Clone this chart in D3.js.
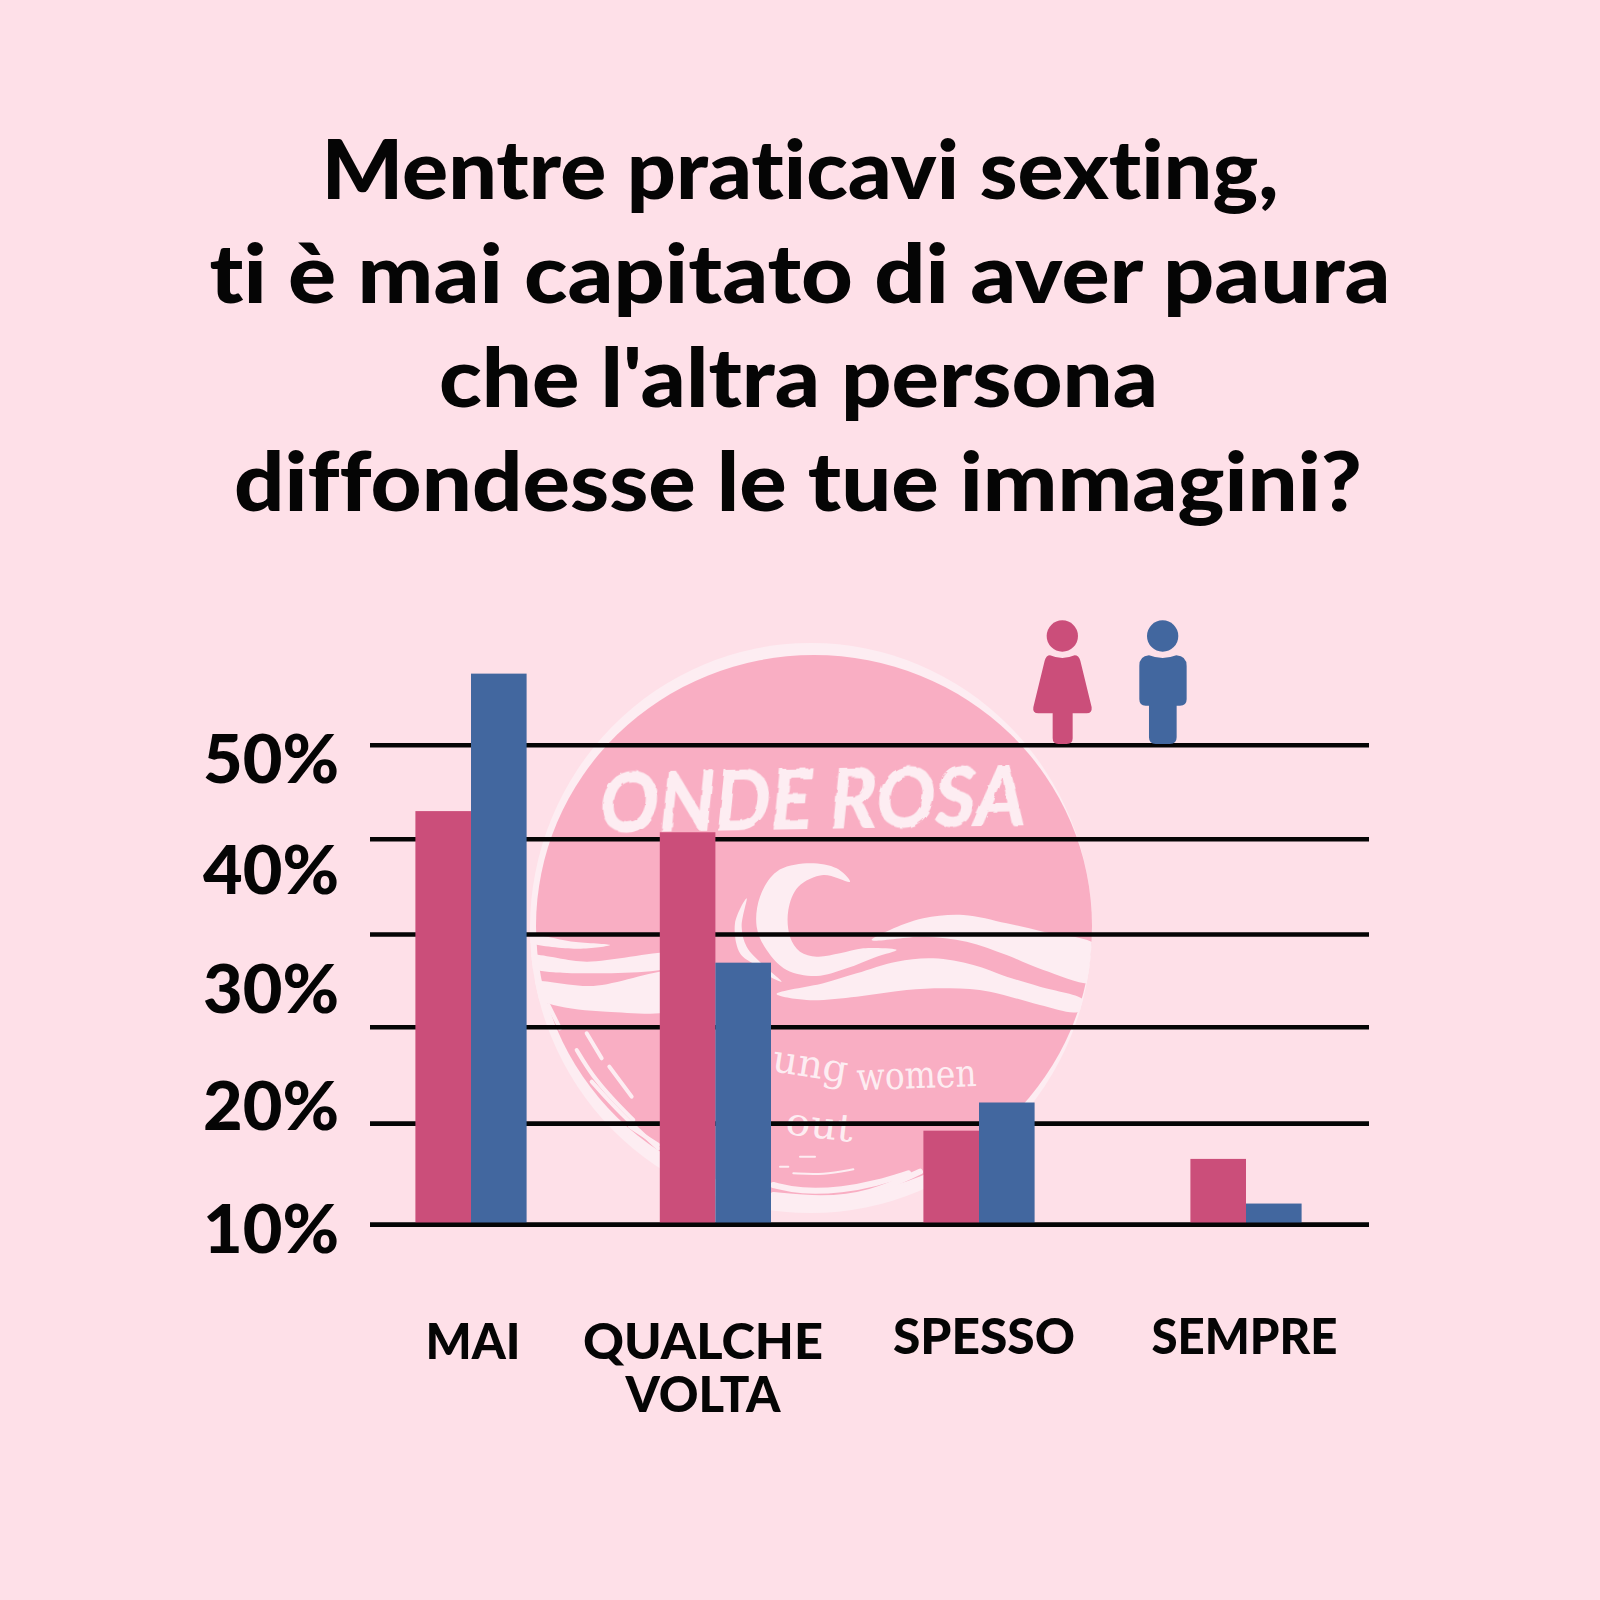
<!DOCTYPE html>
<html><head><meta charset="utf-8">
<style>html,body{margin:0;padding:0;background:#fee0e8}svg{display:block}text{font-family:Lato,"Open Sans",sans-serif;fill:#050505;font-variant-ligatures:none;font-feature-settings:"liga" 0,"clig" 0}</style>
<script src="https://cdn.jsdelivr.net/npm/d3@7/dist/d3.min.js"></script>
</head><body><svg id="c" width="1600" height="1600" viewBox="0 0 1600 1600"></svg>
<script>
// ---- data ----
const titleLines = ["Mentre praticavi sexting,","ti è mai capitato di aver paura","che l'altra persona","diffondesse le tue immagini?"];
const categories = ["MAI","QUALCHE VOLTA","SPESSO","SEMPRE"];
const femmine = [45.2,43.4,18.0,15.6];
const maschi  = [56.9,32.3,20.4,11.8];
const tickValues = [50,40,30,20,10];
const gridValues = [50.8,42.8,34.7,26.8,18.6,10];

// ---- layout (as in the reference, which is hand-placed) ----
const PINK="#cb4e7a", BLUE="#42679f", BG="#fee0e8", LOGO="#f9aec3", PALE="#fdedf2";
const y = d3.scaleLinear().domain([10,50]).range([1224.7,754.7]);
const xBar = d3.scaleOrdinal(categories,[471,715.4,979,1246]);
const barW = 55.6;
const tickBase = d3.scaleOrdinal(tickValues,[783,894,1013,1130,1253]);
const svg = d3.select("#c");
svg.append("rect").attr("width",1600).attr("height",1600).attr("fill",BG);

// filter for brush-like logo edges, clip for the waves
const defs = svg.append("defs");
const f = defs.append("filter").attr("id","rough").attr("x","-5%").attr("y","-5%").attr("width","110%").attr("height","110%");
f.append("feTurbulence").attr("type","fractalNoise").attr("baseFrequency",0.09).attr("numOctaves",2).attr("seed",4).attr("result","n");
f.append("feDisplacementMap").attr("in","SourceGraphic").attr("in2","n").attr("scale",4);
defs.append("clipPath").attr("id","disc").append("ellipse").attr("cx",811).attr("cy",928).attr("rx",281).attr("ry",285);

// title
const titleFit = [{x:800,w:957},{x:800,w:1181},{x:798.5,w:719},{x:798,w:1128}];
svg.append("g").selectAll("text").data(titleLines).join("text")
  .attr("x",(d,i)=>titleFit[i].x).attr("y",(d,i)=>199+i*104)
  .attr("text-anchor","middle").attr("font-size",81).attr("font-weight",900)
  .attr("textLength",(d,i)=>titleFit[i].w).attr("lengthAdjust","spacingAndGlyphs").text(d=>d);

// logo (watermark)
const logo = svg.append("g");
logo.append("ellipse").attr("cx",811).attr("cy",928).attr("rx",281).attr("ry",285).attr("fill",PALE);
logo.append("ellipse").attr("cx",814).attr("cy",926).attr("rx",278).attr("ry",271).attr("fill",LOGO);
const curve = d3.line().curve(d3.curveCatmullRomClosed.alpha(0.5));
const wavesG = logo.append("g").attr("clip-path","url(#disc)");
const w4 = wavesG.append("g").attr("transform","translate(690,840) scale(0.3333)").attr("fill",PALE);
const waves = [
 [[480,125],[440,85],[350,70],[260,95],[210,170],[200,260],[230,330],[290,390],[380,408],[470,385],[560,350],[620,330],[520,325],[450,340],[380,350],[330,335],[300,290],[295,210],[325,140],[400,105]],
 [[170,175],[135,250],[150,340],[190,372],[240,410],[275,425],[220,375],[170,320],[155,260]],
 [[600,270],[700,235],[820,225],[950,250],[1060,275],[1215,312],[1240,370],[1215,428],[1060,390],[950,345],[830,305],[700,290],[545,300]],
 [[260,462],[400,430],[500,400],[620,365],[730,355],[850,375],[950,410],[1050,440],[1182,482],[1165,515],[1050,495],[900,455],[780,445],[650,450],[500,470],[350,480]]
];
w4.selectAll("path").data(waves).join("path").attr("d",curve);
const w5 = wavesG.append("g").attr("transform","translate(520,900) scale(0.3333)");
const bands = [
 [[20,105],[160,125],[270,135],[170,146],[20,122]],
 [[20,168],[200,185],[480,162],[480,192],[220,220],[20,198]],
 [[20,248],[220,258],[480,220],[480,322],[260,335],[100,315],[20,285]]
];
w5.append("g").attr("fill",PALE).selectAll("path").data(bands).join("path").attr("d",curve);
const strokes5 = [
 [[85,315],[120,385]],[[170,450],[215,525],[280,600],[340,660]],[[268,500],[335,590]],[[200,400],[245,475]],
 [[215,545],[300,640],[415,745]],[[330,680],[415,735]]
];
w5.append("g").attr("fill","none").attr("stroke",PALE).attr("stroke-width",12).attr("stroke-linecap","round")
  .selectAll("path").data(strokes5).join("path").attr("d",d3.line().curve(d3.curveBasis));
const w8 = logo.append("g").attr("transform","translate(760,1040) scale(0.3333)").attr("fill","none").attr("stroke",PALE).attr("stroke-linecap","round");
const strokes8 = [
 [[120,350],[165,350]],[[100,400],[190,405],[280,388]],[[60,380],[85,380]],
 [[40,435],[120,455],[250,450],[350,430],[445,400]],[[40,465],[180,480],[330,465],[480,395]]
];
w8.selectAll("path").data(strokes8).join("path").attr("stroke-width",(d,i)=>i>2?18:6).attr("d",d3.line().curve(d3.curveBasis));

logo.append("text").attr("transform","translate(810,829) rotate(-1) skewX(-7)")
  .attr("text-anchor","middle").attr("font-size",84).attr("font-weight",900)
  .attr("textLength",426).attr("lengthAdjust","spacingAndGlyphs")
  .attr("filter","url(#rough)").style("fill",PALE).text("ONDE ROSA");
const tag = (t,x,yy,r,w)=>logo.append("text").attr("transform",`translate(${x},${yy}) rotate(${r})`)
  .attr("text-anchor","end").attr("font-size",38).attr("textLength",w).attr("lengthAdjust","spacingAndGlyphs")
  .style("font-family","'DejaVu Serif',serif").style("fill",PALE).text(t);
tag("young",846,1083,9,122);
tag("women",977,1086,-2,120);
tag("out",852,1142,7,68);

// gridlines
svg.append("g").selectAll("line").data(gridValues).join("line")
  .attr("x1",370).attr("x2",1369).attr("y1",d=>y(d)).attr("y2",d=>y(d))
  .attr("stroke","#050505").attr("stroke-width",4.6);

// bars
const bars = svg.append("g");
const addBars=(vals,off,col)=>bars.append("g").selectAll("rect").data(vals).join("rect")
  .attr("x",(d,i)=>xBar(categories[i])+off).attr("width",barW)
  .attr("y",d=>y(d)).attr("height",d=>y(10)-y(d)).attr("fill",col);
addBars(femmine,-barW,PINK);
addBars(maschi,0,BLUE);
svg.append("line").attr("x1",370).attr("x2",1369).attr("y1",y(10)).attr("y2",y(10)).attr("stroke","#050505").attr("stroke-width",4.6);

// y labels
svg.append("g").selectAll("text").data(tickValues).join("text")
  .attr("x",339).attr("y",d=>tickBase(d)).attr("text-anchor","end")
  .attr("font-size",66).attr("font-weight",900)
  .attr("textLength",136).attr("lengthAdjust","spacingAndGlyphs").text(d=>d+"%");

// x labels
const catFit = [
 {lines:["MAI"],x:473,w:[95],b:[1359]},
 {lines:["QUALCHE","VOLTA"],x:703,w:[240,155],b:[1359,1412]},
 {lines:["SPESSO"],x:984,w:[182],b:[1354]},
 {lines:["SEMPRE"],x:1244.5,w:[186],b:[1354]}
];
catFit.forEach(c=>c.lines.forEach((t,i)=>svg.append("text")
  .attr("x",c.x).attr("y",c.b[i]).attr("text-anchor","middle").attr("font-size",49).attr("font-weight",900)
  .attr("textLength",c.w[i]).attr("lengthAdjust","spacingAndGlyphs").text(t)));

// legend pictograms
const icons = svg.append("g").attr("transform","translate(1000,600) scale(0.3333)");
const woman = icons.append("g").attr("fill",PINK);
woman.append("circle").attr("cx",187).attr("cy",108).attr("r",47);
woman.append("path").attr("d","M150 166 Q187 182 224 166 Q236 166 241 182 L275 322 Q277 340 260 340 L218 340 L218 415 Q218 432 200 432 L175 432 Q158 432 158 415 L158 340 L115 340 Q97 340 100 322 L134 182 Q139 166 150 166Z");
const man = icons.append("g").attr("fill",BLUE);
man.append("circle").attr("cx",488).attr("cy",108).attr("r",47);
man.append("path").attr("d","M447 166 Q488 182 529 166 Q560 168 560 198 L560 298 Q560 317 540 317 L530 317 L530 412 Q530 432 510 432 L467 432 Q447 432 447 412 L447 317 L437 317 Q418 317 418 298 L418 198 Q418 168 447 166Z");
</script></body></html>
